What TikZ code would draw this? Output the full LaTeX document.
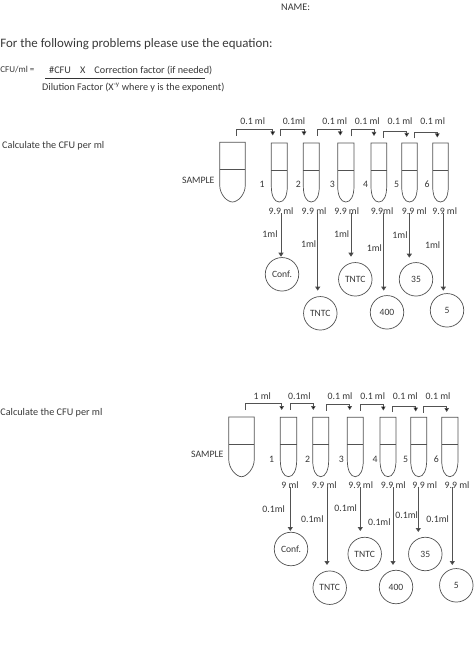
\documentclass[tikz,border=0pt]{standalone}
\usepackage{fontspec}
\setmainfont{Carlito}
\usetikzlibrary{arrows.meta}
\definecolor{ink}{gray}{0.22}
\definecolor{wire}{gray}{0.32}
\tikzset{
  x=1pt,y=-1pt,
  txt/.style={text=ink,font=\fontsize{9.8}{11}\selectfont,inner sep=0pt},
  bigtxt/.style={text=ink,font=\fontsize{12.9}{14}\selectfont,inner sep=0pt,anchor=west},
  midtxt/.style={text=ink,font=\fontsize{10.2}{12}\selectfont,inner sep=0pt},
  tubeline/.style={draw=wire,line width=0.7pt},
  bracket/.style={draw=wire,line width=0.7pt,-{Triangle[length=4pt,width=4.5pt,fill=black]}},
  drop/.style={draw=wire,line width=1pt,-{Triangle[length=4pt,width=5pt,fill=black]}},
  plate/.style={circle,draw=wire,line width=0.7pt,minimum size=33.5pt,inner sep=0pt,text=ink,font=\fontsize{9.6}{11}\selectfont},
}
% name, left, right, top, mid, shoulder, bottom
\newcommand{\tubeshape}[7]{%
  \draw[tubeline] (#2,#4) -- (#2,#6) .. controls (#2,{#6+10}) and ({(#2+#3)/2-5},#7) .. ({(#2+#3)/2},#7)
    .. controls ({(#2+#3)/2+5},#7) and (#3,{#6+10}) .. (#3,#6) -- (#3,#4) -- cycle;
  \draw[tubeline] (#2,#5) -- (#3,#5);
  \coordinate (#1) at ({(#2+#3)/2},#5);
}
% name, start x, end x, top y, foot y, arrow y, label, label x, label y
\newcommand{\transfer}[9]{%
  \coordinate (#1s) at (#2,#5);
  \coordinate (#1e) at (#3,#6);
  \draw[bracket] (#1s) |- (#3,#4) -- (#1e);
  \node[txt] (#1l) at (#8,#9) {#7};
}
% name, x, y start, y end, volume, vol x, vol y
\newcommand{\droparrow}[7]{%
  \node[txt] (#1v) at (#6,#7) {#5};
  \coordinate (#1a) at (#2,#3);
  \coordinate (#1b) at (#2,#4);
  \draw[drop] (#1a) -- (#1b);
}
\begin{document}
\begin{tikzpicture}
\useasboundingbox (0,0) rectangle (474,671);
\clip (0,0) rectangle (474,671);

% header
\node[midtxt] (name) at (295.7,7) {NAME:};
\node[bigtxt] (title) at (0.2,44) {For the following problems please use the equation:};
\node[midtxt,anchor=west,font=\fontsize{9}{11}\selectfont] (cfu) at (0.2,70) {CFU/ml =};
\node[midtxt,anchor=west] (numer) at (49,70) {\#CFU\enspace\, X\enspace\, Correction factor (if needed)};
\coordinate (fracl) at (45,78.3);
\coordinate (fracr) at (205,78.3);
\draw[draw=black!80,line width=0.8pt] (fracl) -- (fracr);
\node[midtxt,anchor=west] (denom) at (42,87.5) {Dilution Factor (X\textsuperscript{-y} where y is the exponent)};
\node[midtxt,anchor=west] (calc1) at (2,145.7) {Calculate the CFU per ml};
\node[midtxt,anchor=west] (calc2) at (0.2,413) {Calculate the CFU per ml};

% ---- first panel
\node[txt] (sampleA) at (198.3,180) {SAMPLE};
\tubeshape{sA}{219.7}{245.3}{142.3}{169.7}{185}{202}
\foreach \n/\l/\r/\cx/\num in {1/271.3/287.3/262/1,2/303.3/319.3/298.3/2,3/337.7/354/332.3/3,4/371/386.7/365.7/4,5/401.7/417.3/396.7/5,6/432.7/448.3/427/6}{
  \tubeshape{tA\n}{\l}{\r}{143}{170}{186}{202}
  \node[txt] (numA\n) at (\cx,184.3) {\num};
}
\transfer{bA1}{236.3}{272.7}{129}{135.7}{135.5}{0.1 ml}{252.7}{121}
\transfer{bA2}{280.7}{304}{129}{135.7}{135.5}{0.1ml}{294}{121}
\transfer{bA3}{317.7}{340.3}{129.5}{136}{135.5}{0.1 ml}{334.7}{121}
\transfer{bA4}{351}{374}{129.5}{136.5}{136}{0.1 ml}{367.3}{121}
\transfer{bA5}{383.7}{406.7}{131.7}{138}{137}{0.1 ml}{400}{121}
\transfer{bA6}{414}{437.3}{132}{138.5}{137.5}{0.1 ml}{432.7}{121}

\droparrow{dA1}{281}{213}{256.7}{9.9 ml}{281}{210.7}
\droparrow{dA2}{317.7}{213}{290.7}{9.9 ml}{314}{210.7}
\droparrow{dA3}{351}{213}{256.7}{9.9 ml}{346.7}{210.7}
\droparrow{dA4}{383.7}{213}{290.7}{9.9ml}{382}{210.7}
\droparrow{dA5}{409.3}{213}{257.7}{9.9 ml}{414.3}{210.7}
\droparrow{dA6}{443.3}{213}{290.7}{9.9 ml}{444.7}{210.7}

\node[txt] (mA1) at (270,234) {1ml};
\node[txt] (mA2) at (308.7,244) {1ml};
\node[txt] (mA3) at (341.7,234) {1ml};
\node[txt] (mA4) at (374.3,247.7) {1ml};
\node[txt] (mA5) at (400,235) {1ml};
\node[txt] (mA6) at (432.7,245) {1ml};

\node[plate] (pA1) at (282,274.3) {Conf.};
\node[plate] (pA2) at (320.3,313.3) {TNTC};
\node[plate] (pA3) at (355.3,279.3) {TNTC};
\node[plate] (pA4) at (387,312.3) {400};
\node[plate] (pA5) at (416,279.3) {35};
\node[plate] (pA6) at (447,310.3) {5};

% ---- second panel
\node[txt] (sampleB) at (207.3,454) {SAMPLE};
\tubeshape{sB}{228.7}{254.3}{417}{444.3}{459}{476.7}
\foreach \n/\l/\r/\cx/\num in {1/280.3/296.7/271.7/1,2/312.7/328.7/307.7/2,3/347.3/363.3/341.3/3,4/380/396/375/4,5/410.7/426.7/405.7/5,6/441.7/458/436.3/6}{
  \tubeshape{tB\n}{\l}{\r}{417.3}{444.5}{460}{476.7}
  \node[txt] (numB\n) at (\cx,459) {\num};
}
\transfer{bB1}{245.3}{281.7}{403.3}{410}{410}{1 ml}{262.3}{395.7}
\transfer{bB2}{290}{313.3}{403.5}{410}{410}{0.1ml}{299.3}{395.7}
\transfer{bB3}{326.3}{349.7}{404}{410.5}{410}{0.1 ml}{340}{395.7}
\transfer{bB4}{360.3}{383.3}{404}{410.5}{410.5}{0.1 ml}{372.7}{395.7}
\transfer{bB5}{392.7}{415.7}{406}{412}{411.5}{0.1 ml}{405.3}{395.7}
\transfer{bB6}{423.3}{446.7}{406.5}{412.5}{412}{0.1 ml}{438}{395.7}

\droparrow{dB1}{290.3}{487.3}{531}{9 ml}{290}{485}
\droparrow{dB2}{327}{487.3}{565}{9.9 ml}{324.3}{485}
\droparrow{dB3}{360.3}{487.3}{531}{9.9 ml}{360.7}{485}
\droparrow{dB4}{393}{487.3}{565}{9.9 ml}{393.3}{485}
\droparrow{dB5}{418.3}{487.3}{532}{9.9 ml}{424.7}{485}
\droparrow{dB6}{452.3}{487.3}{565}{9.9 ml}{457}{485}

\node[txt] (mB1) at (273.7,508.7) {0.1ml};
\node[txt] (mB2) at (312.3,518.7) {0.1ml};
\node[txt] (mB3) at (345.7,508) {0.1ml};
\node[txt] (mB4) at (379.3,521.7) {0.1ml};
\node[txt] (mB5) at (406.7,515.3) {0.1ml};
\node[txt] (mB6) at (437.7,519) {0.1ml};

\node[plate] (pB1) at (291,549) {Conf.};
\node[plate] (pB2) at (329.7,587.7) {TNTC};
\node[plate] (pB3) at (364.7,554) {TNTC};
\node[plate] (pB4) at (396,587) {400};
\node[plate] (pB5) at (425.3,554) {35};
\node[plate] (pB6) at (456.3,585.3) {5};
\end{tikzpicture}
\end{document}
